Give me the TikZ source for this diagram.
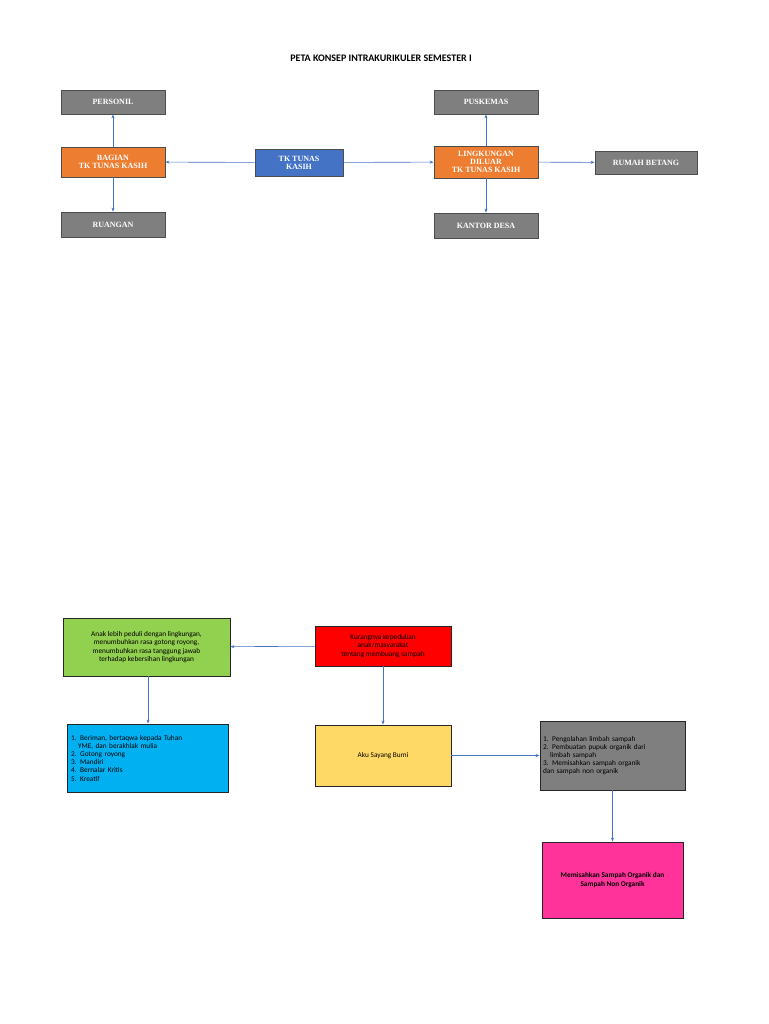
\documentclass[tikz,border=0pt]{standalone}
\usepackage{fontspec}
\setmainfont{Carlito}
\newfontfamily\serifb{Liberation Serif}
\usetikzlibrary{arrows.meta}
\definecolor{gr}{HTML}{7F7F7F}
\definecolor{og}{HTML}{ED7D31}
\definecolor{bl}{HTML}{4472C4}
\definecolor{ln}{HTML}{4472C4}
\definecolor{gn}{HTML}{92D050}
\definecolor{cy}{HTML}{00B0F0}
\definecolor{yl}{HTML}{FFD966}
\definecolor{pk}{HTML}{FF3399}
\begin{document}
\begin{tikzpicture}[x=1pt,y=-1pt,
 top/.style={draw=black!70,line width=0.8pt,text=white,font=\serifb\bfseries\fontsize{8}{8}\selectfont,align=center,inner sep=0pt},
 bot/.style={draw=black!85,line width=0.9pt,font=\fontsize{7.3}{8.2}\selectfont,inner sep=0pt},
 arr/.style={ln,line width=0.6pt,-{Stealth[length=4pt,width=3pt]}}]
\useasboundingbox (0,0) rectangle (768,1024);
\node[font=\bfseries\fontsize{10}{12}\selectfont] (title) at (381,58) {PETA KONSEP INTRAKURIKULER SEMESTER I};
\newcommand\bx[6]{\node[#1,fill=#2,minimum width=#5-#3,minimum height=0] (#6) at ({(#3+#5)/2},0) {};}
\node[top,fill=gr,minimum width=104,minimum height=24] (pers) at (113,102) {PERSONIL};
\node[top,fill=og,minimum width=104,minimum height=30] (bag) at (113,162) {BAGIAN\\TK TUNAS KASIH};
\node[top,fill=gr,minimum width=104,minimum height=25] (ruang) at (113,224.5) {RUANGAN};
\node[top,fill=bl,minimum width=88,minimum height=27] (tk) at (299,162.5) {TK TUNAS\\KASIH};
\node[top,fill=gr,minimum width=104,minimum height=24] (pusk) at (486,102) {PUSKEMAS};
\node[top,fill=og,minimum width=104,minimum height=32] (ling) at (486,162) {LINGKUNGAN\\DILUAR\\TK TUNAS KASIH};
\node[top,fill=gr,minimum width=104,minimum height=25] (kant) at (486,225.5) {KANTOR DESA};
\node[top,fill=gr,minimum width=102,minimum height=23] (rumah) at (646,162.5) {RUMAH BETANG};
\draw[arr] (tk) -- (bag);
\draw[arr] (tk) -- (ling);
\draw[arr] (bag) -- (pers);
\draw[arr] (bag) -- (ruang);
\draw[arr] (ling) -- (pusk);
\draw[arr] (ling) -- (kant);
\draw[arr] (ling) -- (rumah);
\node[bot,fill=gn,minimum width=167,minimum height=58,align=center] (green) at (146.5,647) {Anak lebih peduli dengan lingkungan,\\menumbuhkan rasa gotong royong,\\menumbuhkan rasa tanggung jawab\\terhadap kebersihan lingkungan};
\node[bot,fill=red,minimum width=136,minimum height=40,align=center] (red) at (383,646) {Kurangnya kepedulian\\anak/masyarakat\\tentang membuang sampah};
\node[bot,fill=cy,minimum width=161,minimum height=68,align=left,text width=153,inner xsep=4pt] (blue) at (147.5,758) {1. Beriman, bertaqwa kepada Tuhan\\\hspace*{7pt}YME, dan berakhlak mulia\\2. Gotong royong\\3. Mandiri\\4. Bernalar Kritis\\5. Kreatif\\[9pt]};
\node[bot,fill=yl,minimum width=136,minimum height=61] (yel) at (383,755.5) {Aku Sayang Bumi};
\node[bot,fill=gr,minimum width=145,minimum height=69,align=left,text width=139,inner xsep=3pt] (gray) at (612.5,755.5) {1. Pengolahan limbah sampah\\2. Pembuatan pupuk organik dari\\\hspace*{7pt}limbah sampah\\3. Memisahkan sampah organik\\dan sampah non organik\\[12pt]};
\node[bot,fill=pk,minimum width=141,minimum height=76,align=center,font=\bfseries\fontsize{7.3}{8.2}\selectfont] (pink) at (612.5,880) {Memisahkan Sampah Organik dan\\Sampah Non Organik};
\draw[arr] (red) -- (green);
\draw[arr] (red) -- (yel);
\draw[arr] (green.south -| 148,0) -- (blue.north -| 148,0);
\draw[arr] (yel) -- (gray);
\draw[arr] (gray) -- (pink);
\end{tikzpicture}
\end{document}
